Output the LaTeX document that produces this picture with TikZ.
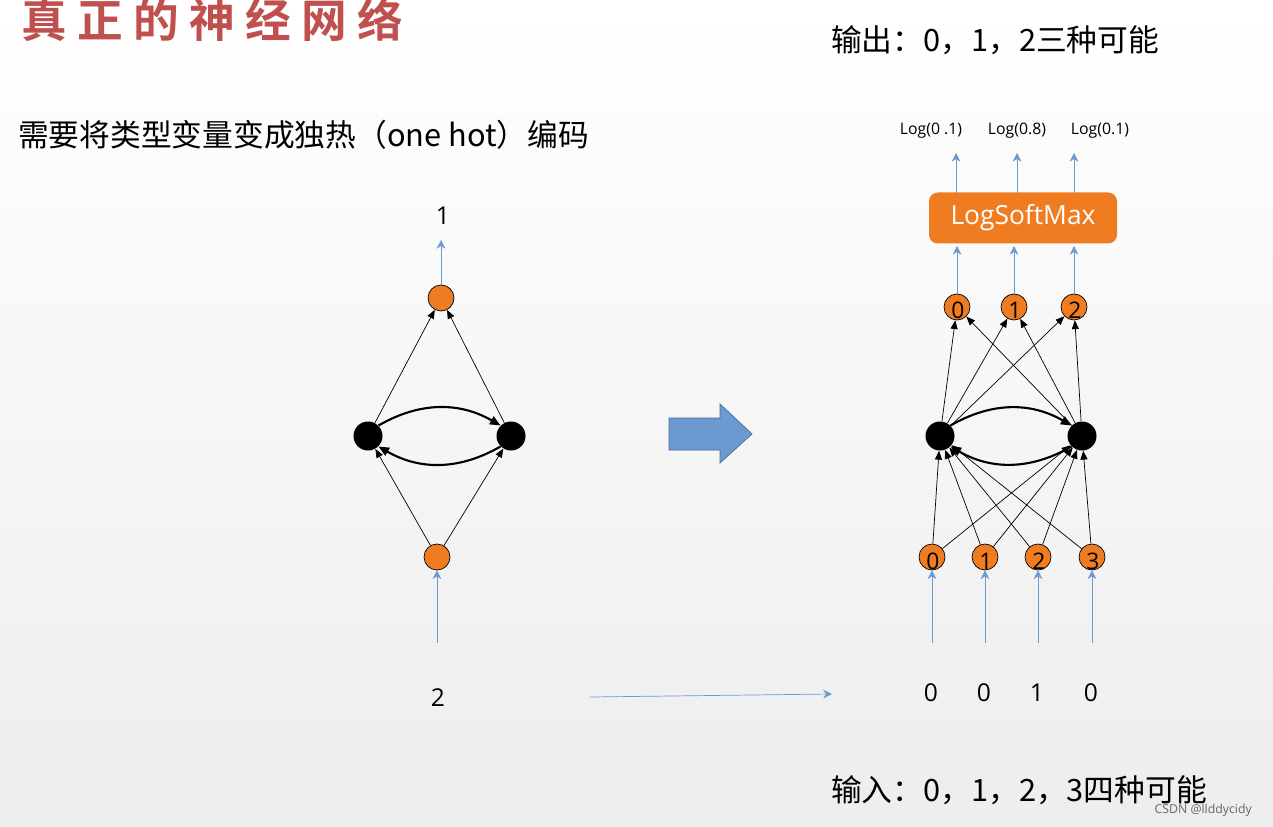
\documentclass[tikz,border=0pt]{standalone}
\usepackage{fontspec}
\setmainfont{Open Sans}
\newfontfamily\cjk{Noto Sans CJK SC}
\newfontfamily\cjkb{Noto Sans CJK SC Bold}
\usetikzlibrary{arrows.meta}
\definecolor{org}{HTML}{F07C22}
\definecolor{lblue}{HTML}{6A9AD0}
\definecolor{ttl}{HTML}{C0504D}
\begin{document}
\begin{tikzpicture}[x=0.02cm,y=-0.02cm,
 onode/.style={circle,draw=black,fill=org,minimum size=26*0.02cm,inner sep=0pt,font=\fontsize{13}{13}\selectfont},
 bnode/.style={circle,fill=black,minimum size=29*0.02cm,inner sep=0pt},
 ar/.style={-{Triangle[length=5pt,width=4pt]},black,thin},
 br/.style={-{Stealth[length=5pt,width=5pt]},lblue,thin},
 cv/.style={-{Triangle[length=6pt,width=5pt]},black,line width=1.2pt}]
\shade[top color=white,bottom color=black!7] (0,0) rectangle (1273,827);
\useasboundingbox (0,0) rectangle (1273,827);
\node[anchor=west,text=ttl,font=\cjkb\fontsize{26}{26}\selectfont] (title) at (15,20) {真 正 的 神 经 网 络};
\node[anchor=west,font=\cjk\fontsize{17.5}{17.5}\selectfont] (desc) at (12,135) {需要将类型变量变成独热（one hot）编码};
\node[anchor=west,font=\cjk\fontsize{17.5}{17.5}\selectfont] (out) at (825,40) {输出：0，1，2三种可能};
\node[anchor=west,font=\cjk\fontsize{17.5}{17.5}\selectfont] (in) at (825,790) {输入：0，1，2，3四种可能};
\node[anchor=east,text=black!60,font=\fontsize{7}{7}\selectfont] (wm) at (1258,810) {CSDN @llddycidy};
% left network
\node[font=\fontsize{14}{14}\selectfont] (l1) at (443,216) {1};
\node[font=\fontsize{14}{14}\selectfont] (l2) at (438,698) {2};
\node[onode] (lt) at (441,298) {};
\node[onode] (lb) at (437,557) {};
\node[bnode] (la) at (368,436) {};
\node[bnode] (lc) at (511,436) {};
\coordinate (lto) at (441,240);
\coordinate (lbi) at (437,643);
\draw[br] (lt) -- (lto);
\draw[br] (lbi) -- (lb);
\draw[ar] (la) -- (lt); \draw[ar] (lc) -- (lt);
\draw[ar] (lb) -- (la); \draw[ar] (lb) -- (lc);
\draw[cv] (la.north east) to[bend left=30] (lc.north west);
\draw[cv] (lc.south west) to[bend left=30] (la.south east);
% big arrow
\draw[draw=lblue!70!black,fill=lblue] (669,418) -- (720,418) -- (720,404) -- (752,434) -- (720,463) -- (720,450) -- (669,450) -- cycle;
\coordinate (sa) at (590,697); \coordinate (sb) at (832,694);
\draw[br] (sa) -- (sb);
% right network
\node[rounded corners=5pt,fill=org,text=white,minimum width=188*0.02cm,minimum height=51*0.02cm,font=\fontsize{15}{15}\selectfont] (lsm) at (1023,218) {LogSoftMax};
\foreach \i/\x/\lab in {0/931/Log(0 .1),1/1017/Log(0.8),2/1100/Log(0.1)}
  \node[font=\fontsize{9}{9}\selectfont] (g\i) at (\x,131) {\lab};
\foreach \i/\x in {0/956,1/1017,2/1074}{
  \coordinate (gt\i) at (\x,153); \coordinate (gb\i) at (\x,193);
  \draw[br] (gb\i) -- (gt\i);}
\foreach \i/\x in {0/957,1/1014,2/1074}{
  \node[onode] (o\i) at (\x,307) {};
  \node[font=\fontsize{13}{13}\selectfont] (ol\i) at (\x+1,310) {\i};
  \coordinate (lb\i) at (\x,246);
  \draw[br] (o\i) -- (lb\i);}
\node[bnode] (ra) at (940,436) {};
\node[bnode] (rc) at (1082,436) {};
\foreach \i/\x/\v in {0/932/0,1/985/0,2/1038/1,3/1092/0}{
  \node[onode] (n\i) at (\x,557) {};
  \node[font=\fontsize{13}{13}\selectfont] (nl\i) at (\x+1,561) {\i};
  \coordinate (ni\i) at (\x,643);
  \draw[br] (ni\i) -- (n\i);
  \node[font=\fontsize{14}{14}\selectfont] (v\i) at (\x-1,693) {\v};
  \draw[ar] (n\i) -- (ra); \draw[ar] (n\i) -- (rc);}
\foreach \i in {0,1,2}{\draw[ar] (ra) -- (o\i); \draw[ar] (rc) -- (o\i);}
\draw[cv] (ra.north east) to[bend left=30] (rc.north west);
\draw[cv] (rc.south west) to[bend left=30] (ra.south east);
\end{tikzpicture}
\end{document}
